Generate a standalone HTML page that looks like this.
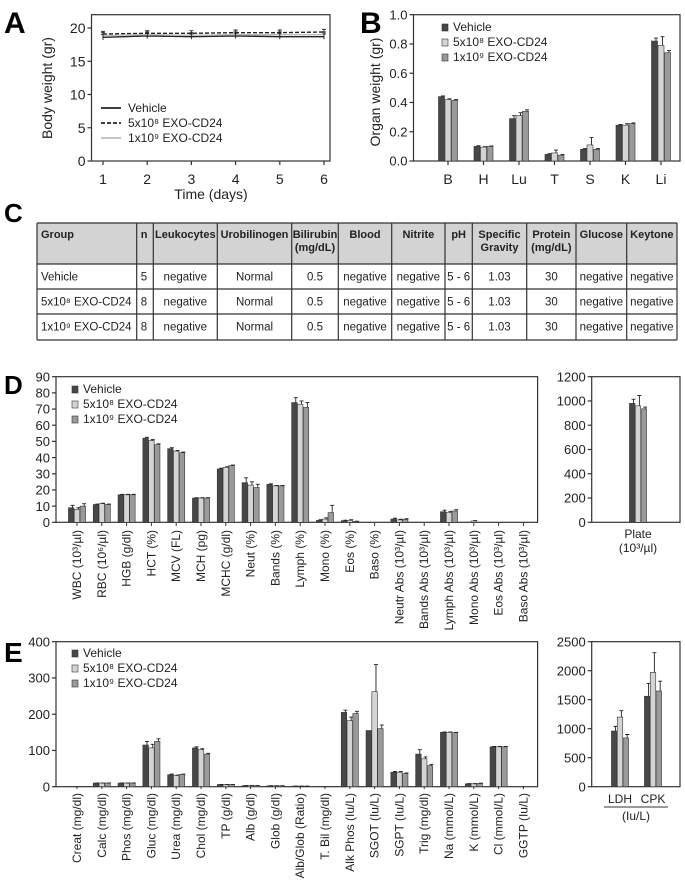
<!DOCTYPE html>
<html><head><meta charset="utf-8"><style>
html,body{margin:0;padding:0;background:#fff;}
svg{display:block;font-family:"Liberation Sans",sans-serif;}
</style></head><body>
<svg id="fig" width="685" height="880" viewBox="0 0 685 880" xmlns="http://www.w3.org/2000/svg">
<text x="4" y="33" font-size="30" font-weight="bold">A</text>
<text x="360" y="33" font-size="30" font-weight="bold">B</text>
<text x="4" y="222" font-size="26" font-weight="bold">C</text>
<text x="4" y="394" font-size="26" font-weight="bold">D</text>
<text x="4" y="662" font-size="28" font-weight="bold">E</text>
<g id="tbl"></g>
</svg>
<script>
const NS='http://www.w3.org/2000/svg';
const svg=document.getElementById('fig');
function mk(tag,attrs,parent){const e=document.createElementNS(NS,tag);for(const k in attrs)e.setAttribute(k,attrs[k]);(parent||svg).appendChild(e);return e;}
const COLS=['#474747','#d4d4d4','#9a9a9a'];
const SERIES=['Vehicle','5x10⁸ EXO-CD24','1x10⁹ EXO-CD24'];

// ---------- Panel A data ----------
const aDays=[1,2,3,4,5,6];
const aVeh=[18.6,18.8,18.7,18.8,18.7,18.7];
const a5x8=[19.1,19.2,19.2,19.3,19.3,19.4];
const a1x9=[18.9,19.0,18.9,19.0,19.0,19.0];
const aErr=[0.4,0.4,0.4,0.4,0.4,0.4];
const aYTicks=[0,5,10,15,20];

// ---------- Panel B data ----------
const bCats=['B','H','Lu','T','S','K','Li'];
const bVeh=[0.44,0.10,0.29,0.045,0.08,0.245,0.82];
const b5x8=[0.42,0.095,0.31,0.055,0.11,0.245,0.79];
const b1x9=[0.415,0.10,0.34,0.04,0.08,0.255,0.74];
const bErrVeh=[0.005,0.005,0.02,0.005,0.005,0.005,0.02];
const bErr5x8=[0.005,0.003,0.02,0.02,0.05,0.01,0.06];
const bErr1x9=[0.005,0.003,0.01,0.005,0.005,0.005,0.015];
const bYTicks=[0,0.2,0.4,0.6,0.8,1.0];

// ---------- Panel D data ----------
const dCats=['WBC (10³/µl)','RBC (10⁶/µl)','HGB (g/dl)','HCT (%)','MCV (FL)','MCH (pg)','MCHC (g/dl)','Neut (%)','Bands (%)','Lymph (%)','Mono (%)','Eos (%)','Baso (%)','Neutr Abs (10³/µl)','Bands Abs (10³/µl)','Lymph Abs (10³/µl)','Mono Abs (10³/µl)','Eos Abs (10³/µl)','Baso Abs (10³/µl)'];
const dVeh=[9,11,17,52,45.5,15,33,24.5,23.5,74,1.2,1,0,2,0,6.5,0,0,0];
const d5x8=[8,11.5,17,50.5,44,15,34,23,22.5,73,2,1.2,0,1.5,0,6,0.8,0,0];
const d1x9=[10,11,17,48,43,15,35,21.5,22.5,71,6,0.5,0,1.8,0,7,0,0,0];
const dErrVeh=[1.5,0.3,0.3,0.5,0.6,0.2,0.4,3,0.3,3,0.4,0.3,0,0.5,0,1,0,0,0];
const dErr5x8=[1,0.3,0.3,0.6,0.4,0.2,0.4,2,0.3,2,0.8,0.4,0,0.4,0,0.8,0.3,0,0];
const dErr1x9=[1.5,0.3,0.3,0.5,0.4,0.2,0.4,2,0.3,3,4.5,0.2,0,0.4,0,0.8,0,0,0];
const dYTicks=[0,10,20,30,40,50,60,70,80,90];
const plateVals=[980,960,935];
const plateErr=[35,85,15];
const plateYTicks=[0,200,400,600,800,1000,1200];

// ---------- Panel E data ----------
const eCats=['Creat (mg/dl)','Calc (mg/dl)','Phos (mg/dl)','Gluc (mg/dl)','Urea (mg/dl)','Chol (mg/dl)','TP (g/dl)','Alb (g/dl)','Glob (g/dl)','Alb/Glob (Ratio)','T. Bil (mg/dl)','Alk Phos (Iu/L)','SGOT (Iu/L)','SGPT (Iu/L)','Trig (mg/dl)','Na (mmol/L)','K (mmol/L)','Cl (mmol/L)','GGTP (Iu/L)'];
const eVeh=[0.3,10,10,115,33,107,6,3,2.5,1.5,0.3,205,155,40,90,150,8,110,0];
const e5x8=[0.3,10,10,107,31,102,6,3,2.5,1.5,0.3,182,262,40,77,150,8,110,0];
const e1x9=[0.3,10,10,125,34,90,6,3,2.5,1.5,0.3,202,160,36,58,149,9,110,0];
const eErrVeh=[0,0.5,0.5,10,2,3,0.3,0.2,0.2,0.1,0,6,0,2,12,1,0.5,1,0];
const eErr5x8=[0,0.5,0.5,10,1,3,0.3,0.2,0.2,0.1,0,10,75,2,5,1,0.5,1,0];
const eErr1x9=[0,0.5,0.5,7,1,2,0.3,0.2,0.2,0.1,0,6,10,2,3,1,0.5,1,0];
const eYTicks=[0,100,200,300,400];
const enzCats=['LDH','CPK'];
const enzVeh=[960,1560];
const enz5x8=[1200,1970];
const enz1x9=[840,1650];
const enzErrVeh=[80,220];
const enzErr5x8=[110,340];
const enzErr1x9=[60,170];
const enzYTicks=[0,500,1000,1500,2000,2500];

// ---------- helpers ----------
function frame(x0,y0,x1,y1,name){
  const r=mk('rect',{x:x0,y:y0,width:x1-x0,height:y1-y0,fill:'none',stroke:'#333','stroke-width':1.2});
  
  
}
function yAxis(ticks,yf,x0,fs,fmt,name){
  ticks.forEach(v=>{
    const y=yf(v);
    const l=mk('line',{x1:x0-4,x2:x0,y1:y,y2:y,stroke:'#333','stroke-width':1.2});
    
    
    const t=mk('text',{x:x0-6,y:y+fs*0.36,'text-anchor':'end','font-size':fs,fill:'#222'});
    t.textContent=fmt(v);
    
    
  });
}
function errBar(x,y1,y2,name){
  const g=mk('path',{d:`M${x},${y1}V${y2}M${x-2},${y2}H${x+2}`,stroke:'#222','stroke-width':0.9,fill:'none'});
  
  
}
function bars(cats,series,errs,xf,yf,bw,gap,name){
  cats.forEach((c,i)=>{
    series.forEach((s,k)=>{
      const cx=xf(i)+(k-1)*gap;
      const v=s[i], y=yf(v), y0=yf(0);
      const r=mk('rect',{x:cx-bw/2,y:Math.min(y,y0),width:bw,height:Math.abs(y0-y),fill:COLS[k],stroke:'#333','stroke-width':0.6});
      
      
      if(errs[k][i]>0){
        errBar(cx+bw/4,y,yf(v+errs[k][i]),name+'-error-bar');
      }
    });
  });
}
function legendSq(x,y,fs,name){
  SERIES.forEach((s,k)=>{
    const yy=y+k*15;
    const r=mk('rect',{x:x,y:yy-6,width:6,height:7,fill:COLS[k],stroke:'#333','stroke-width':0.6});
    
    
    const t=mk('text',{x:x+11,y:yy+1,'font-size':fs,fill:'#222'});
    t.textContent=s;
    
    
  });
}
function rotLabels(cats,xf,y,fs,name){
  cats.forEach((c,i)=>{
    const x=xf(i);
    const l=mk('line',{x1:x,x2:x,y1:y-7,y2:y-4,stroke:'#333','stroke-width':1});
    
    
    const t=mk('text',{x:x+4,y:y,'text-anchor':'end','font-size':fs,fill:'#222',transform:`rotate(-90 ${x+4} ${y})`});
    t.textContent=c;
    
    
  });
}

// ---------- Panel A ----------
(function(){
  const xf=d=>103+(d-1)*44.2, yf=v=>161-v*6.65;
  frame(91.5,14.7,330,161,'panel-a-frame');
  yAxis(aYTicks,yf,91.5,14,v=>v,'panel-a-y');
  aDays.forEach(d=>{
    const l=mk('line',{x1:xf(d),x2:xf(d),y1:161,y2:165,stroke:'#333','stroke-width':1.2});
    
    
    const t=mk('text',{x:xf(d),y:184,'text-anchor':'middle','font-size':14,fill:'#222'});
    t.textContent=d;
    
    
  });
  const series=[aVeh,a5x8,a1x9];
  const styles=[{stroke:'#222',dash:''},{stroke:'#222',dash:'4,2'},{stroke:'#bbb',dash:''}];
  const names=['vehicle-line','5x10e8-line','1x10e9-line'];
  series.forEach((s,k)=>{
    const d=s.map((v,i)=>(i?'L':'M')+xf(aDays[i])+','+yf(v)).join('');
    const p=mk('path',{d:d,fill:'none',stroke:styles[k].stroke,'stroke-width':1.4,'stroke-dasharray':styles[k].dash});
    
    
    s.forEach((v,i)=>{
      errBar(xf(aDays[i]),yf(v-aErr[i]),yf(v+aErr[i]),'panel-a-error-bar');
    });
  });
  SERIES.forEach((s,k)=>{
    const y=108+k*15;
    const l=mk('line',{x1:101,x2:121,y1:y,y2:y,stroke:styles[k].stroke,'stroke-width':1.8,'stroke-dasharray':styles[k].dash});
    
    
    const t=mk('text',{x:128,y:y+4,'font-size':12,fill:'#222'});
    t.textContent=s;
    
    
  });
  const yt=mk('text',{x:0,y:0,'text-anchor':'middle','font-size':14,fill:'#222',transform:'translate(52 88) rotate(-90)'});
  yt.textContent='Body weight (gr)';
  
  
  const xt=mk('text',{x:211,y:199,'text-anchor':'middle','font-size':14,fill:'#222'});
  xt.textContent='Time (days)';
  
  
})();

// ---------- Panel B ----------
(function(){
  const xf=i=>448+i*35.5, yf=v=>161-v*146.3;
  frame(413.5,14.7,680,161,'panel-b-frame');
  yAxis(bYTicks,yf,413.5,13,v=>v.toFixed(1),'panel-b-y');
  bars(bCats,[bVeh,b5x8,b1x9],[bErrVeh,bErr5x8,bErr1x9],xf,yf,6,6.5,'panel-b');
  bCats.forEach((c,i)=>{
    const l=mk('line',{x1:xf(i),x2:xf(i),y1:161,y2:165,stroke:'#333','stroke-width':1.2});
    
    
    const t=mk('text',{x:xf(i),y:184,'text-anchor':'middle','font-size':14,fill:'#222'});
    t.textContent=c;
    
    
  });
  legendSq(442,30,12,'panel-b');
  const yt=mk('text',{x:0,y:0,'text-anchor':'middle','font-size':14,fill:'#222',transform:'translate(380 92) rotate(-90)'});
  yt.textContent='Organ weight (gr)';
  
  
})();

// ---------- Panel C table ----------
(function(){
  const tg=document.getElementById('tbl');
  const cx=[37,136.7,153.3,217.3,291.7,338.3,391.7,445,472.3,526.7,576,626.7,677];
  const ry=[223,264,289,314,340];
  const head=[['Group'],['n'],['Leukocytes'],['Urobilinogen'],['Bilirubin','(mg/dL)'],['Blood'],['Nitrite'],['pH'],['Specific','Gravity'],['Protein','(mg/dL)'],['Glucose'],['Keytone']];
  const rows=[['Vehicle','5','negative','Normal','0.5','negative','negative','5 - 6','1.03','30','negative','negative'],
              ['5x10⁸ EXO-CD24','8','negative','Normal','0.5','negative','negative','5 - 6','1.03','30','negative','negative'],
              ['1x10⁹ EXO-CD24','8','negative','Normal','0.5','negative','negative','5 - 6','1.03','30','negative','negative']];
  const hb=mk('rect',{x:37,y:223,width:640,height:41,fill:'#d3d3d3'},tg);
  
  
  head.forEach((h,j)=>{
    const left=j<2;
    h.forEach((line,m)=>{
      const t=mk('text',{x:left?cx[j]+4:(cx[j]+cx[j+1])/2,y:238+m*13,'text-anchor':left?'start':'middle','font-size':11,'font-weight':'bold',fill:'#222'},tg);
      t.textContent=line;
      
      
    });
  });
  rows.forEach((r,i)=>{
    r.forEach((c,j)=>{
      const left=j<2;
      const t=mk('text',{x:left?cx[j]+4:(cx[j]+cx[j+1])/2,y:ry[i+1]+16.5,'text-anchor':left?'start':'middle','font-size':11.5,fill:'#222'},tg);
      t.textContent=c;
      
      
    });
  });
  ry.forEach(y=>{
    const l=mk('line',{x1:37,x2:677,y1:y,y2:y,stroke:'#333','stroke-width':1.2},tg);
    
    
  });
  cx.forEach(x=>{
    const l=mk('line',{x1:x,x2:x,y1:223,y2:340,stroke:'#333','stroke-width':1.2},tg);
    
    
  });
})();

// ---------- Panel D ----------
(function(){
  const xf=i=>77+i*24.8, yf=v=>522.3-v*1.618;
  frame(56,376.7,537.6,522.3,'panel-d-frame');
  yAxis(dYTicks,yf,56,13,v=>v,'panel-d-y');
  bars(dCats,[dVeh,d5x8,d1x9],[dErrVeh,dErr5x8,dErr1x9],xf,yf,5.5,5.8,'panel-d');
  rotLabels(dCats,xf,530,12,'panel-d');
  legendSq(72,392,12,'panel-d');
  const yf2=v=>522.3-v*(145.6/1200);
  frame(591.7,376.7,680,522.3,'panel-d-plate-frame');
  yAxis(plateYTicks,yf2,591.7,13,v=>v,'panel-d-plate-y');
  bars(['Plate'],[[plateVals[0]],[plateVals[1]],[plateVals[2]]],[[plateErr[0]],[plateErr[1]],[plateErr[2]]],i=>638,yf2,5.5,5.8,'panel-d-plate');
  const t1=mk('text',{x:638,y:538,'text-anchor':'middle','font-size':12,fill:'#222'});
  t1.textContent='Plate';
  
  
  const t2=mk('text',{x:638,y:552,'text-anchor':'middle','font-size':12,fill:'#222'});
  t2.textContent='(10³/µl)';
  
  
})();

// ---------- Panel E ----------
(function(){
  const xf=i=>77+i*24.8, yf=v=>786.7-v*(145/400);
  frame(56,641.7,537.6,786.7,'panel-e-frame');
  yAxis(eYTicks,yf,56,13,v=>v,'panel-e-y');
  bars(eCats,[eVeh,e5x8,e1x9],[eErrVeh,eErr5x8,eErr1x9],xf,yf,5.5,5.8,'panel-e');
  rotLabels(eCats,xf,793,12,'panel-e');
  legendSq(72,656,12,'panel-e');
  const xf2=i=>620+i*33, yf2=v=>786.7-v*(145/2500);
  frame(591.7,641.7,680,786.7,'panel-e-enzyme-frame');
  yAxis(enzYTicks,yf2,591.7,13,v=>v,'panel-e-enzyme-y');
  bars(enzCats,[enzVeh,enz5x8,enz1x9],[enzErrVeh,enzErr5x8,enzErr1x9],xf2,yf2,5.5,5.8,'panel-e-enzyme');
  enzCats.forEach((c,i)=>{
    const t=mk('text',{x:xf2(i),y:803,'text-anchor':'middle','font-size':12,fill:'#222'});
    t.textContent=c;
    
    
  });
  const ul=mk('line',{x1:604,x2:668,y1:807,y2:807,stroke:'#333','stroke-width':1});
  
  
  const u=mk('text',{x:636,y:820,'text-anchor':'middle','font-size':12,fill:'#222'});
  u.textContent='(Iu/L)';
  
  
})();
</script>
</body></html>
